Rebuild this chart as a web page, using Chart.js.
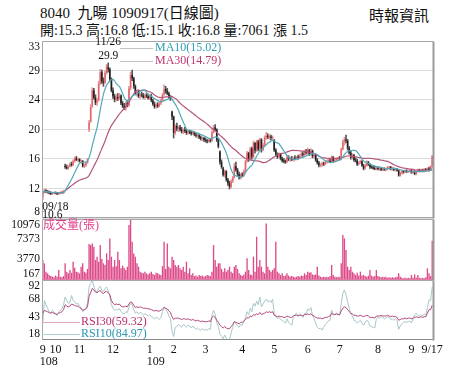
<!DOCTYPE html>
<html><head><meta charset="utf-8">
<style>
html,body{margin:0;padding:0;background:#fff;}
#wrap{position:relative;width:474px;height:379px;overflow:hidden;background:#fff;}
canvas{position:absolute;left:0;}
.t{position:absolute;white-space:nowrap;font-family:"Liberation Serif","Noto Sans CJK TC",serif;color:#111;line-height:1;}
</style>
<script src="https://cdn.jsdelivr.net/npm/chart.js@4.4.0/dist/chart.umd.min.js"></script>
</head><body>
<div id="wrap">
  <div class="t" id="title" style="left:40px;top:6px;font-size:15px;">8040&nbsp;&nbsp;九暘 1090917(日線圖)</div>
  <div class="t" id="ohlc" style="left:40px;top:24px;font-size:14px;"></div>
  <div class="t" style="left:369px;top:7px;font-size:15px;font-family:'Noto Sans CJK TC',sans-serif;">時報資訊</div>
  <canvas id="cp" width="474" height="196" style="top:30px"></canvas>
  <canvas id="cv" width="474" height="75" style="top:210px"></canvas>
  <canvas id="cr" width="474" height="107" style="top:272px"></canvas>
</div>
<script>
// ---------------- data ----------------
const opens = [
11.0,11.6,11.9,11.7,11.6,11.5,11.4,11.5,11.6,11.5,
11.4,11.5,11.6,11.7,15.3,15.2,15.0,15.3,15.6,15.5,
16.0,16.4,16.2,16.3,16.0,16.1,15.3,15.4,15.8,20.5,
21.6,23.8,26.0,25.0,24.3,24.6,27.0,28.6,27.3,27.1,
28.5,29.3,29.0,27.6,26.0,25.2,24.7,25.1,24.9,25.3,
24.2,23.8,23.5,24.2,23.9,26.3,28.2,27.7,26.6,25.6,
25.8,25.2,25.4,25.3,25.0,25.3,25.2,24.9,25.2,24.6,
24.1,23.7,24.0,23.8,24.2,24.6,25.4,26.2,25.9,25.6,
25.1,23.0,22.3,20.0,21.0,20.6,20.8,20.5,20.2,20.4,
20.3,20.0,20.2,20.1,19.9,20.1,19.8,19.6,19.7,19.4,
19.2,19.3,19.0,18.9,18.8,19.0,18.9,20.1,20.8,20.5,
19.0,17.4,15.9,15.0,14.1,14.6,13.4,12.9,12.4,13.2,
13.7,15.3,14.8,14.2,13.7,14.1,14.0,14.6,16.0,17.2,
16.3,17.8,16.6,18.6,17.5,18.8,17.7,19.1,17.6,18.3,
19.4,19.6,19.4,19.5,19.3,19.0,17.6,17.0,16.6,17.0,
16.4,16.1,16.0,15.9,16.6,16.3,16.4,16.2,16.5,16.4,
16.6,16.5,16.8,17.1,16.9,17.4,17.2,17.6,17.0,17.5,
16.7,16.9,16.2,15.8,15.4,15.5,15.7,15.6,15.9,16.0,
16.1,15.9,16.6,16.1,16.2,16.3,16.4,16.3,17.7,18.8,
19.1,18.9,17.9,17.2,16.5,16.9,16.2,16.1,15.6,15.8,
16.0,15.4,15.0,15.4,15.9,15.6,15.2,15.1,15.0,14.9,
15.1,14.9,15.0,14.8,15.0,14.8,14.9,15.1,15.2,14.9,
15.0,14.8,14.9,14.7,14.0,14.4,14.6,14.5,14.7,14.5,
14.6,14.7,14.4,14.6,14.2,14.6,14.8,14.6,14.8,14.6,
14.9,14.7,15.0,14.7,15.3];
const highs = [
11.8,12.1,12.0,11.9,11.8,11.7,11.6,11.7,11.7,11.6,
11.6,11.7,11.8,11.9,15.6,15.5,15.4,15.8,15.9,16.2,
16.6,16.7,16.5,16.4,16.2,16.1,15.6,15.9,16.4,21.8,
24.0,26.4,26.3,25.4,24.9,27.3,29.0,28.9,27.8,28.8,
29.7,29.9,29.2,27.8,26.4,25.5,25.4,25.6,25.6,25.4,
24.5,24.2,24.4,24.6,26.6,28.6,28.9,27.9,26.8,26.1,
26.1,25.6,25.8,25.6,25.5,25.6,25.5,25.4,25.5,24.8,
24.4,24.2,24.3,24.4,24.8,25.6,26.8,26.6,26.3,25.8,
25.3,23.1,22.4,21.2,21.4,21.0,21.1,20.8,20.6,20.8,
20.5,20.4,20.4,20.3,20.3,20.2,20.0,19.9,19.8,19.6,
19.5,19.4,19.3,19.1,19.2,19.2,20.3,21.1,21.2,20.6,
19.2,17.5,16.2,15.2,14.8,14.7,13.6,13.2,13.4,13.9,
15.7,15.9,15.0,14.5,14.3,14.4,14.8,16.2,17.4,17.3,
18.0,18.0,18.9,18.7,19.0,19.0,19.3,19.2,18.5,19.6,
20.1,19.9,19.8,19.7,19.6,19.1,17.8,17.2,17.2,17.1,
16.6,16.4,16.2,16.8,16.8,16.6,16.7,16.6,16.8,16.7,
16.9,17.0,17.3,17.3,17.6,17.7,17.9,17.7,17.8,17.6,
17.1,17.0,16.4,16.0,15.7,15.9,15.9,16.1,16.2,16.3,
16.3,16.8,16.7,16.4,16.5,16.6,16.7,17.9,19.0,19.4,
19.7,19.1,18.1,17.5,17.1,17.0,16.5,16.3,16.0,16.2,
16.1,15.6,15.6,16.1,16.0,15.7,15.4,15.3,15.3,15.2,
15.2,15.1,15.1,15.1,15.1,15.0,15.3,15.3,15.3,15.2,
15.1,15.0,15.0,14.8,14.5,14.7,14.7,14.8,14.8,14.7,
14.8,14.8,14.7,14.7,14.7,14.9,14.9,14.9,14.9,15.0,
15.0,15.1,15.2,15.4,16.8];
const lows = [
10.6,11.5,11.6,11.5,11.4,11.3,11.3,11.4,11.4,11.3,
11.3,11.4,11.5,11.5,15.0,14.9,14.9,15.2,15.3,15.4,
15.9,16.1,16.0,15.9,15.7,15.2,15.1,15.3,15.7,20.2,
21.5,23.6,24.8,24.0,23.9,24.5,26.8,27.0,26.6,27.0,
28.3,28.6,27.4,25.8,24.9,24.4,24.5,24.6,24.7,24.0,
23.6,23.3,23.2,23.7,23.8,26.1,27.4,26.3,25.4,25.2,
25.0,24.9,25.1,24.9,24.8,25.0,24.8,24.7,24.4,23.9,
23.5,23.5,23.6,23.7,24.0,24.5,25.3,25.6,25.4,24.9,
24.6,21.9,19.3,19.8,20.3,20.2,20.3,20.0,19.9,20.1,
19.8,19.8,19.9,19.7,19.8,19.6,19.4,19.3,19.2,19.0,
18.9,18.8,18.7,18.6,18.7,18.7,18.8,20.0,20.3,18.8,
17.9,15.6,15.0,13.9,13.8,13.2,12.6,12.1,12.2,13.0,
13.6,14.6,14.0,13.5,13.5,13.8,13.9,14.5,15.9,16.0,
16.2,16.3,16.5,17.2,17.4,17.5,17.6,17.3,17.5,18.2,
19.1,19.2,19.1,19.0,19.0,17.4,16.8,16.4,16.5,16.2,
15.9,15.8,15.7,15.8,16.1,16.0,16.1,16.0,16.2,16.2,
16.3,16.4,16.6,16.7,16.8,17.0,17.0,16.8,16.9,16.5,
16.4,16.0,15.6,15.2,15.2,15.3,15.4,15.5,15.7,15.8,
15.8,15.8,15.9,15.9,16.0,16.1,16.2,16.2,17.6,18.3,
18.6,17.6,17.0,16.3,16.3,16.0,15.9,15.4,15.5,15.7,
15.3,14.8,14.9,15.3,15.4,15.0,15.0,14.9,14.8,14.8,
14.8,14.7,14.7,14.7,14.7,14.6,14.8,14.9,14.8,14.7,
14.7,14.6,14.6,13.9,13.9,14.2,14.3,14.4,14.4,14.4,
14.5,14.3,14.3,14.1,14.1,14.5,14.5,14.5,14.5,14.5,
14.6,14.6,14.6,14.7,15.1];
const closes = [
11.6,11.9,11.7,11.6,11.5,11.4,11.5,11.6,11.5,11.4,
11.5,11.6,11.7,11.8,15.2,15.0,15.3,15.6,15.5,16.0,
16.4,16.2,16.3,16.0,16.1,15.3,15.4,15.8,16.3,21.5,
23.7,26.0,25.0,24.3,24.6,27.0,28.6,27.3,27.1,28.5,
29.5,29.0,27.6,26.0,25.2,24.7,25.1,24.9,25.3,24.2,
23.8,23.5,24.2,23.9,26.3,28.2,27.7,26.6,25.6,25.8,
25.2,25.4,25.3,25.0,25.3,25.2,24.9,25.2,24.6,24.1,
23.7,24.0,23.8,24.2,24.6,25.4,26.2,25.9,25.6,25.1,
24.8,22.3,20.0,21.0,20.6,20.8,20.5,20.2,20.4,20.3,
20.0,20.2,20.1,19.9,20.1,19.8,19.6,19.7,19.4,19.2,
19.3,19.0,18.9,18.8,19.0,18.9,20.1,20.8,20.5,19.0,
18.1,15.9,15.2,14.1,14.6,13.4,12.9,12.4,13.2,13.7,
15.3,14.8,14.2,13.7,14.1,14.0,14.6,16.0,17.2,16.3,
17.8,16.6,18.6,17.5,18.8,17.7,19.1,17.6,18.3,19.4,
19.6,19.4,19.5,19.3,19.4,17.6,17.0,16.6,17.0,16.4,
16.1,16.0,15.9,16.6,16.3,16.4,16.2,16.5,16.4,16.6,
16.5,16.8,17.1,16.9,17.4,17.2,17.6,17.0,17.5,16.7,
16.9,16.2,15.8,15.4,15.5,15.7,15.6,15.9,16.0,16.1,
15.9,16.6,16.1,16.2,16.3,16.4,16.3,17.7,18.8,19.1,
18.9,17.9,17.2,16.5,16.9,16.2,16.1,15.6,15.8,16.0,
15.4,15.0,15.4,15.9,15.6,15.2,15.1,15.0,14.9,15.1,
14.9,15.0,14.8,15.0,14.8,14.9,15.2,15.2,14.9,15.1,
14.8,14.9,14.7,14.0,14.4,14.6,14.5,14.7,14.5,14.6,
14.7,14.4,14.6,14.2,14.6,14.8,14.6,14.8,14.6,14.9,
14.7,15.0,14.7,15.3,16.8];
const volumes = [
3600,3000,1500,1200,900,700,600,500,800,600,
1800,600,500,700,3000,1500,1200,1800,1300,3300,
2200,1500,1400,1200,2400,3000,1500,1300,2000,6500,
6300,6600,6000,3600,4200,3300,6300,3800,3000,2700,
4800,3600,7500,4200,2400,3600,2500,5100,3600,2100,
2600,2200,1800,2400,9900,10976,6900,4800,4200,3000,
2400,1500,1300,1200,1500,1200,1000,1200,1500,1100,
900,1300,1200,1000,900,2500,6900,2000,6600,2400,
2100,4200,3600,2700,2400,2700,2100,1800,2400,1500,
3300,1200,2100,900,1200,700,800,600,900,700,
800,600,700,900,800,700,1500,6300,3600,2400,
3000,3000,2000,1500,2100,1500,1800,2400,1500,1200,
2400,2700,2000,1200,900,700,1000,1500,3900,1800,
1000,900,4200,1500,7800,2400,3600,2400,1500,1200,
10200,2400,1800,1500,1800,2100,6900,1500,1200,900,
1200,700,800,1200,800,600,700,600,500,600,
700,600,800,700,1200,900,1500,1300,1400,1000,
900,1000,2400,800,600,500,600,500,600,500,
700,2700,900,600,500,600,500,3000,8100,7500,
5400,2400,1800,2400,1500,1200,900,1300,800,1500,
800,900,700,600,800,1800,800,600,700,1800,
700,600,500,600,500,600,400,500,400,500,
400,500,600,1200,600,400,300,400,300,400,
300,900,400,1000,400,900,400,300,400,300,
500,2100,1200,700,7061];
const rsi10 = [
34,66,60,55,50,48,52,50,47,45,
50,52,54,60,71,66,62,63,73,66,
64,61,62,58,56,50,52,55,62,85,
90,95,86,80,78,84,86,80,79,83,
85,80,72,60,55,52,54,52,55,50,
48,47,50,49,57,62,60,53,48,50,
47,49,48,45,47,46,44,46,43,42,
40,42,41,39,42,50,57,54,50,44,
40,22,15,28,29,32,30,28,32,31,
28,31,30,27,30,27,25,27,25,24,
26,24,25,24,26,25,45,52,46,35,
29,18,15,12,17,12,10,10,20,28,
36,33,30,28,32,31,36,42,50,46,
55,50,62,58,65,60,71,57,61,65,
68,64,66,63,68,48,43,40,42,39,
38,36,34,40,35,33,31,42,46,48,
44,47,45,42,48,47,54,52,56,45,
40,34,28,26,27,24,28,32,34,37,
38,52,47,46,48,47,45,62,76,81,
74,64,55,47,44,38,37,34,36,38,
34,31,35,38,36,30,29,28,27,40,
42,41,43,42,40,41,43,42,39,40,
38,40,38,25,30,33,35,36,35,36,
37,34,40,46,48,45,44,46,44,47,
45,56,67,66,84.97];
const rsi30 = [
48,52,51,50,49,48,49,48,47,46,
48,49,50,53,60,58,57,58,61,60,
59,58,58,56,55,52,53,54,57,72,
77,83,81,78,77,79,80,77,76,78,
79,77,74,66,62,60,61,60,61,58,
57,57,58,57,61,64,63,59,56,57,
56,57,56,55,55,55,54,54,53,52,
51,52,51,51,52,54,56,55,54,51,
49,43,39,41,41,41,40,39,40,40,
39,40,39,38,39,38,37,38,37,36,
37,36,36,36,37,36,42,44,42,38,
35,31,29,27,29,27,26,26,29,32,
36,35,34,33,35,35,37,39,42,41,
44,43,46,45,47,46,49,46,47,48,
50,49,50,49,50,45,44,43,44,43,
43,42,42,44,43,42,42,44,45,45,
44,45,45,44,46,46,47,46,47,45,
44,42,41,41,41,40,41,42,42,43,
44,48,46,46,47,46,46,51,55,57,
56,53,50,48,47,45,45,44,44,45,
44,43,44,45,44,42,42,42,41,44,
44,44,45,44,44,44,45,44,43,44,
43,43,42,38,39,40,40,41,40,41,
41,40,41,42,43,42,42,43,42,43,
43,48,53,53,59.32];

// axis ticks / labels
const priceRange = [8, 33];
const priceTickLabels = ['8','12','16','20','24','29','33'];
const volRange = [0, 11000];
const volTicks = [167, 3770, 7373, 10976];
const rsiRange = [10, 95];
const rsiTicks = [18, 43, 68, 92];
const monthTickIndex = [0, 8, 23, 44, 67, 82, 102, 125, 145, 166, 186, 210, 231, 244];
const monthTickText  = ['9','10','11','12','1','2','3','4','5','6','7','8','9','9/17'];
const yearTickIndex = [0, 67];
const yearTickText  = ['108','109'];
const hiDate = '11/26';
const loDate = '09/18';

// ---------------- helpers ----------------
const SERIF = "'Liberation Serif','Noto Sans CJK TC',serif";
const N = closes.length;
const idx = closes.map((_, i) => i);
function movingAvg(arr, n) {
  return arr.map((_, i) => {
    const s = arr.slice(Math.max(0, i - n + 1), i + 1);
    return s.reduce((a, b) => a + b, 0) / s.length;
  });
}
const ma10 = movingAvg(closes, 10);
const ma30 = movingAvg(closes, 30);
const priceTickValues = priceTickLabels.map((_, k) => priceRange[0] + k * (priceRange[1] - priceRange[0]) / (priceTickLabels.length - 1));

const UP = '#e4636c', DOWN = '#1e1e1e';
const bodyColors = closes.map((c, i) => c >= opens[i] ? UP : DOWN);
const wickColors = closes.map((c, i) => c >= opens[i] ? '#e79a9c' : '#555555');
const MA10C = '#55a9b6', MA30C = '#b4567c';
const VOLC = '#dd4c8a';
const R30C = '#b3497a', R10C = '#a9c6c8';

document.getElementById('ohlc').textContent =
  '開:' + opens[N-1].toFixed(1) + ' 高:' + highs[N-1].toFixed(1) + ' 低:' + lows[N-1].toFixed(1) +
  ' 收:' + closes[N-1].toFixed(1) + ' 量:' + volumes[N-1] + ' 漲 ' + (closes[N-1] - closes[N-2]).toFixed(1);

function yAxis(range, tickVals, grid) {
  return {
    min: range[0], max: range[1], position: 'left',
    afterBuildTicks: s => { s.ticks = tickVals.map(v => ({ value: v })); },
    afterFit: s => { s.width = 42; },
    ticks: { display: false },
    grid: { display: grid, color: '#dcdcdc', drawTicks: false, lineWidth: 1 },
    border: { display: false }
  };
}
function hiddenX() {
  return { type: 'category', offset: true, display: false };
}
function yLabels(id, vals, texts) {
  return {
    id,
    afterDraw(chart) {
      const { ctx, chartArea: a, scales: { y } } = chart;
      ctx.save();
      ctx.font = '11.5px ' + SERIF; ctx.fillStyle = '#111';
      ctx.textAlign = 'right'; ctx.textBaseline = 'middle';
      vals.forEach((v, k) => {
        let py = y.getPixelForValue(v);
        py = Math.min(Math.max(py, a.top + 6), a.bottom - 6);
        ctx.fillText(texts[k], a.left - 2, py);
      });
      ctx.restore();
    }
  };
}
function frame(id, bottomColor) {
  return {
    id,
    afterDatasetsDraw(chart) {
      const { ctx, chartArea: a } = chart;
      const l = Math.round(a.left) + 0.5, r = Math.round(a.right) + 0.5;
      const t = Math.round(a.top) + 0.5, b = Math.round(a.bottom) - 0.5;
      ctx.save();
      ctx.lineWidth = 1; ctx.strokeStyle = '#a8a8a8';
      ctx.beginPath(); ctx.moveTo(l, t); ctx.lineTo(r, t); ctx.moveTo(l, t); ctx.lineTo(l, b); ctx.stroke();
      ctx.strokeStyle = bottomColor;
      ctx.beginPath(); ctx.moveTo(l, b); ctx.lineTo(r, b); ctx.stroke();
      ctx.lineWidth = 2; ctx.strokeStyle = '#9a9a9a';
      ctx.beginPath(); ctx.moveTo(r, t); ctx.lineTo(r, b + 1); ctx.stroke();
      ctx.restore();
    }
  };
}
const base = {
  responsive: false, animation: false, devicePixelRatio: 1, events: [],
  plugins: { legend: { display: false }, tooltip: { enabled: false } }
};

// ---------------- price chart ----------------
const priceAnno = {
  id: 'priceAnno',
  afterDraw(chart) {
    const { ctx, chartArea: a, scales: { x, y } } = chart;
    ctx.save();
    ctx.fillStyle = '#111';
    ctx.font = '11.5px ' + SERIF;
    const hiV = Math.max(...highs), hiI = highs.indexOf(hiV);
    const hx = x.getPixelForValue(hiI), hy = y.getPixelForValue(hiV);
    ctx.textAlign = 'center'; ctx.textBaseline = 'alphabetic';
    ctx.fillText(hiDate, hx, hy - 18);
    ctx.fillText(hiV.toFixed(1), hx, hy - 4);
    const loV = Math.min(...lows), loI = lows.indexOf(loV);
    const lx = x.getPixelForValue(loI), ly = y.getPixelForValue(loV);
    ctx.textAlign = 'left';
    ctx.fillText(loDate, lx - 0.5, ly + 10.5);
    ctx.fillText(loV.toFixed(1), lx - 0.5, ly + 18);
    // MA legend
    ctx.font = '12px ' + SERIF; ctx.textBaseline = 'middle';
    const ly1 = a.top + 7, ly2 = a.top + 19.5;
    ctx.strokeStyle = '#c4c4c4'; ctx.lineWidth = 1;
    ctx.beginPath(); ctx.moveTo(120, Math.round(ly1) + 0.5); ctx.lineTo(153, Math.round(ly1) + 0.5);
    ctx.moveTo(120, Math.round(ly2) + 0.5); ctx.lineTo(153, Math.round(ly2) + 0.5); ctx.stroke();
    ctx.fillStyle = '#2f9db2';
    ctx.fillText('MA10(' + ma10[N-1].toFixed(2) + ')', 155, ly1);
    ctx.fillStyle = '#bf3471';
    ctx.fillText('MA30(' + ma30[N-1].toFixed(2) + ')', 155, ly2);
    ctx.restore();
  }
};
new Chart(document.getElementById('cp'), {
  type: 'bar',
  data: {
    labels: idx,
    datasets: [
      { type: 'line', data: ma10, borderColor: MA10C, borderWidth: 1.2, pointRadius: 0, tension: 0.2, order: 0 },
      { type: 'line', data: ma30, borderColor: MA30C, borderWidth: 1.2, pointRadius: 0, tension: 0.2, order: 1 },
      { type: 'bar', data: opens.map((o, i) => [o, closes[i]]), backgroundColor: bodyColors,
        barPercentage: 0.9, categoryPercentage: 1, minBarLength: 1, grouped: false, order: 2 },
      { type: 'bar', data: lows.map((l, i) => [l, highs[i]]), backgroundColor: wickColors,
        barThickness: 1, grouped: false, order: 3 }
    ]
  },
  options: Object.assign({}, base, {
    layout: { padding: { left: 0, right: 41, top: 11, bottom: 8 } },
    scales: { x: hiddenX(), y: yAxis(priceRange, priceTickValues, true) }
  }),
  plugins: [frame('framep', '#a8a8a8'), yLabels('ylp', priceTickValues, priceTickLabels), priceAnno]
});

// ---------------- volume chart ----------------
const volAnno = {
  id: 'volAnno',
  afterDraw(chart) {
    const { ctx, chartArea: a } = chart;
    ctx.save();
    ctx.font = '12px ' + SERIF; ctx.fillStyle = '#e0428a';
    ctx.textAlign = 'left'; ctx.textBaseline = 'middle';
    ctx.fillText('成交量(張)', a.left + 1, a.top + 7);
    ctx.restore();
  }
};
new Chart(document.getElementById('cv'), {
  type: 'bar',
  data: {
    labels: idx,
    datasets: [{ data: volumes, backgroundColor: VOLC, barPercentage: 0.85, categoryPercentage: 1 }]
  },
  options: Object.assign({}, base, {
    layout: { padding: { left: 0, right: 41, top: 9, bottom: 5 } },
    scales: { x: hiddenX(), y: yAxis(volRange, volTicks, false) }
  }),
  plugins: [frame('framev', '#e27aa8'), yLabels('ylv', volTicks, volTicks.map(String)), volAnno]
});

// ---------------- RSI chart ----------------
const monthAt = {};
monthTickIndex.forEach((ix, k) => { monthAt[ix] = monthTickText[k]; });
const rsiAnno = {
  id: 'rsiAnno',
  afterDraw(chart) {
    const { ctx, chartArea: a, scales: { x } } = chart;
    ctx.save();
    const y30 = a.bottom - 18, y10 = a.bottom - 6;
    ctx.lineWidth = 1;
    ctx.strokeStyle = '#e2a6bd';
    ctx.beginPath(); ctx.moveTo(a.left, Math.round(y30) + 0.5); ctx.lineTo(80, Math.round(y30) + 0.5); ctx.stroke();
    ctx.strokeStyle = '#b2cfd2';
    ctx.beginPath(); ctx.moveTo(a.left, Math.round(y10) + 0.5); ctx.lineTo(80, Math.round(y10) + 0.5); ctx.stroke();
    ctx.font = '12px ' + SERIF; ctx.textAlign = 'left'; ctx.textBaseline = 'middle';
    ctx.fillStyle = '#b8306e';
    ctx.fillText('RSI30(' + rsi30[N-1].toFixed(2) + ')', 81, y30);
    ctx.fillStyle = '#2a98ae';
    ctx.fillText('RSI10(' + rsi10[N-1].toFixed(2) + ')', 81, y10);
    // year labels under month labels
    ctx.fillStyle = '#111'; ctx.textBaseline = 'alphabetic';
    yearTickIndex.forEach((ix, k) => {
      const w = ctx.measureText(monthAt[ix] || '').width;
      ctx.fillText(yearTickText[k], x.getPixelForValue(ix) - w / 2, a.bottom + 25);
    });
    ctx.restore();
  }
};
new Chart(document.getElementById('cr'), {
  type: 'line',
  data: {
    labels: idx,
    datasets: [
      { data: rsi30, borderColor: R30C, borderWidth: 1, pointRadius: 0, order: 0 },
      { data: rsi10, borderColor: R10C, borderWidth: 1, pointRadius: 0, order: 1 }
    ]
  },
  options: Object.assign({}, base, {
    layout: { padding: { left: 0, right: 41, top: 8, bottom: 0 } },
    scales: {
      x: {
        type: 'category', offset: true,
        grid: { display: false, drawTicks: false }, border: { display: false },
        afterFit: s => { s.height = 39; },
        ticks: {
          autoSkip: false, maxRotation: 0, minRotation: 0, padding: 3,
          font: { family: SERIF, size: 12 }, color: '#111',
          callback: (v, i) => (monthAt[i] !== undefined ? monthAt[i] : '')
        }
      },
      y: yAxis(rsiRange, rsiTicks, false)
    }
  }),
  plugins: [frame('framer', '#8c8c8c'), yLabels('ylr', rsiTicks, rsiTicks.map(String)), rsiAnno]
});
</script>
</body></html>
